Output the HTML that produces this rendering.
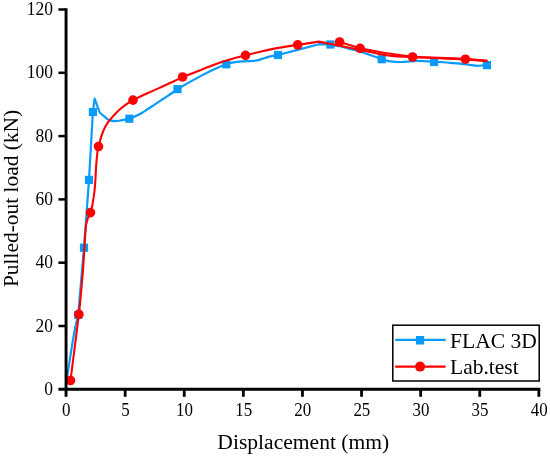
<!DOCTYPE html><html><head><meta charset="utf-8"><title>Pull-out load vs displacement</title>
<style>html,body{margin:0;padding:0;background:#fff}svg{display:block}text{font-family:"Liberation Serif","Times New Roman",serif;fill:#000}</style></head><body>
<svg width="550" height="457" viewBox="0 0 550 457">
<rect width="550" height="457" fill="#fff"/>
<path d="M66.8,380.5 C67.27,377.00 67.65,373.49 68.2,370 C70.29,356.65 72.29,343.30 74.7,330 C75.62,324.91 77.03,319.94 78.2,314.9 C80.13,292.49 82.07,270.11 84,247.7 C85.67,225.09 87.33,202.51 89,179.9 C90.30,157.26 91.60,134.64 92.9,112 C93.47,107.56 94.03,103.14 94.6,98.7 C96.27,103.20 97.93,107.70 99.6,112.2 C100.93,113.43 102.23,114.70 103.6,115.9 C104.90,117.04 106.14,118.27 107.6,119.2 C108.64,119.86 109.81,120.31 111,120.6 C112.47,120.95 113.99,121.10 115.5,121.1 C117.01,121.10 118.51,120.82 120,120.6 C121.68,120.35 123.34,120.04 125,119.7 C126.48,119.39 127.97,119.13 129.4,118.65 C131.82,117.83 134.18,116.86 136.5,115.8 C138.16,115.04 139.72,114.11 141.3,113.2 C142.73,112.38 144.12,111.50 145.5,110.6 C148.69,108.53 151.83,106.40 155,104.3 C157.67,102.53 160.33,100.77 163,99.0 C166.50,96.67 170.03,94.38 173.5,92.0 C174.87,91.06 176.07,89.89 177.5,89.05 C185.25,84.51 193.07,80.12 201,75.9 C206.58,72.93 212.26,70.14 218,67.5 C220.67,66.27 223.43,65.27 226.2,64.3 C228.10,63.63 230.01,62.93 232,62.6 C235.97,61.93 239.99,61.63 244,61.3 C246.00,61.13 248.00,61.24 250,61.1 C252.34,60.94 254.69,60.82 257,60.4 C258.71,60.09 260.34,59.42 262,58.9 C263.84,58.32 265.62,57.56 267.5,57.1 C270.97,56.25 274.50,55.70 278,55 C291.67,51.40 305.33,47.80 319,44.2 C322.80,44.30 326.60,44.40 330.4,44.5 C333.47,45.07 336.56,45.51 339.6,46.2 C343.77,47.14 347.87,48.33 352,49.4 C354.67,50.09 357.36,50.69 360,51.5 C362.70,52.33 365.34,53.35 368,54.3 C372.57,55.92 377.08,57.73 381.7,59.2 C384.42,60.07 387.17,60.90 390,61.3 C393.80,61.84 397.66,62.06 401.5,62 C406.68,61.92 411.82,61.01 417,60.9 C421.34,60.81 425.67,61.12 430,61.4 C431.38,61.49 432.72,61.91 434.1,62.0 C435.70,62.11 437.30,61.92 438.9,62.0 C442.61,62.19 446.30,62.50 450,62.8 C455.61,63.26 461.21,63.65 466.8,64.3 C470.09,64.68 473.33,65.37 476.6,65.9 C480.04,65.63 483.46,65.37 486.9,65.1" fill="none" stroke="#0a9af8" stroke-width="2.2" stroke-linejoin="round"/>
<rect x="74.1" y="310.8" width="8.2" height="8.2" fill="#0a9af8"/>
<rect x="79.9" y="243.6" width="8.2" height="8.2" fill="#0a9af8"/>
<rect x="84.9" y="175.8" width="8.2" height="8.2" fill="#0a9af8"/>
<rect x="88.8" y="107.9" width="8.2" height="8.2" fill="#0a9af8"/>
<rect x="125.3" y="114.6" width="8.2" height="8.2" fill="#0a9af8"/>
<rect x="173.4" y="85.0" width="8.2" height="8.2" fill="#0a9af8"/>
<rect x="222.1" y="60.2" width="8.2" height="8.2" fill="#0a9af8"/>
<rect x="273.9" y="50.9" width="8.2" height="8.2" fill="#0a9af8"/>
<rect x="326.3" y="40.4" width="8.2" height="8.2" fill="#0a9af8"/>
<rect x="377.6" y="55.1" width="8.2" height="8.2" fill="#0a9af8"/>
<rect x="430.0" y="57.9" width="8.2" height="8.2" fill="#0a9af8"/>
<rect x="482.8" y="61.0" width="8.2" height="8.2" fill="#0a9af8"/>
<path d="M70.5,380.5 L78.9,314.4 C80.5,300 81.8,285 83,270 C83.6,262 84,255 84.4,247.7 C84.9,240 85.3,232 86,225 C86.8,219 88.5,216 90.5,212.6 C91.00,210.73 91.57,208.89 92.0,207 C92.37,205.35 92.64,203.67 92.9,202 C93.47,198.34 94.08,194.68 94.5,191 C94.92,187.34 95.16,183.67 95.4,180 C95.73,175.00 95.82,169.99 96.2,165 C96.58,159.99 97.08,154.99 97.7,150 C97.85,148.81 98.23,147.67 98.5,146.5  C99.5,142 100.8,138 102,134.3 C103.2,131 104.5,128 105.9,125.5 C107.3,123 109,121 110.8,118.9 C113,116 115.5,113.5 117.8,111.2 C120,109.2 122.5,107 124.8,105.4 C127.5,103.5 130,101.5 133,99.8 C134.25,99.50 135.48,98.80 136.75,98.2 C141.15,96.12 145.57,94.12 150,92.1 C153.33,90.58 156.67,89.12 160,87.6 C165.01,85.32 170.02,83.05 175,80.7 C177.56,79.50 180.00,78.06 182.6,76.95 C186.68,75.22 190.87,73.80 195,72.2 C198.51,70.84 201.99,69.45 205.5,68.1 C211.33,65.85 217.16,63.63 223,61.4 C227.00,60.27 230.98,59.07 235,58.0 C238.49,57.07 242.00,56.27 245.5,55.4 C262,51 280,47 297.7,44.9 L319,41.6 L339.6,45.8 L357,49.3 C366,51.2 376,53.5 384.3,55 C393,56.4 403,56.9 412.6,57.2 C430,57.9 448,58.7 465.4,59.4 L487.5,61.1" fill="none" stroke="#ff0000" stroke-width="2.1" stroke-linejoin="miter"/>
<path d="M339.6,42 L360.1,48.3 Q386.4,54.2 412.6,56.7 L465.4,58.9 L487.5,60.8" fill="none" stroke="#ff0000" stroke-width="2.1" stroke-linejoin="round"/>
<circle cx="70.5" cy="380.5" r="4.8" fill="#ff0000"/>
<circle cx="78.9" cy="314.4" r="4.8" fill="#ff0000"/>
<circle cx="90.5" cy="212.6" r="4.8" fill="#ff0000"/>
<circle cx="98.5" cy="146.5" r="4.8" fill="#ff0000"/>
<circle cx="133" cy="100.15" r="4.8" fill="#ff0000"/>
<circle cx="182.6" cy="76.95" r="4.8" fill="#ff0000"/>
<circle cx="245.5" cy="55.4" r="4.8" fill="#ff0000"/>
<circle cx="297.7" cy="44.9" r="4.8" fill="#ff0000"/>
<circle cx="339.6" cy="42.0" r="4.8" fill="#ff0000"/>
<circle cx="360.1" cy="48.3" r="4.8" fill="#ff0000"/>
<circle cx="412.6" cy="57.0" r="4.8" fill="#ff0000"/>
<circle cx="465.4" cy="59.2" r="4.8" fill="#ff0000"/>
<path d="M66.05,8.2 V396.8 M58.4,389.3 H540.3" stroke="#000" stroke-width="2.9" fill="none"/>
<text transform="translate(53,394.90) scale(0.93,1)" font-size="18.8" text-anchor="end">0</text>
<path d="M58.4,326.00 H66.05" stroke="#000" stroke-width="2.5" fill="none"/>
<text transform="translate(53,331.60) scale(0.93,1)" font-size="18.8" text-anchor="end">20</text>
<path d="M58.4,262.70 H66.05" stroke="#000" stroke-width="2.5" fill="none"/>
<text transform="translate(53,268.30) scale(0.93,1)" font-size="18.8" text-anchor="end">40</text>
<path d="M58.4,199.40 H66.05" stroke="#000" stroke-width="2.5" fill="none"/>
<text transform="translate(53,205.00) scale(0.93,1)" font-size="18.8" text-anchor="end">60</text>
<path d="M58.4,136.10 H66.05" stroke="#000" stroke-width="2.5" fill="none"/>
<text transform="translate(53,141.70) scale(0.93,1)" font-size="18.8" text-anchor="end">80</text>
<path d="M58.4,72.80 H66.05" stroke="#000" stroke-width="2.5" fill="none"/>
<text transform="translate(53,78.40) scale(0.93,1)" font-size="18.8" text-anchor="end">100</text>
<path d="M58.4,9.50 H66.05" stroke="#000" stroke-width="2.5" fill="none"/>
<text transform="translate(53,15.10) scale(0.93,1)" font-size="18.8" text-anchor="end">120</text>
<text transform="translate(66.35,416.1) scale(0.9,1)" font-size="18.8" text-anchor="middle">0</text>
<path d="M125.15,389.3 V396.8" stroke="#000" stroke-width="2.8" fill="none"/>
<text transform="translate(125.45,416.1) scale(0.9,1)" font-size="18.8" text-anchor="middle">5</text>
<path d="M184.25,389.3 V396.8" stroke="#000" stroke-width="2.8" fill="none"/>
<text transform="translate(184.55,416.1) scale(0.9,1)" font-size="18.8" text-anchor="middle">10</text>
<path d="M243.35,389.3 V396.8" stroke="#000" stroke-width="2.8" fill="none"/>
<text transform="translate(243.65,416.1) scale(0.9,1)" font-size="18.8" text-anchor="middle">15</text>
<path d="M302.45,389.3 V396.8" stroke="#000" stroke-width="2.8" fill="none"/>
<text transform="translate(302.75,416.1) scale(0.9,1)" font-size="18.8" text-anchor="middle">20</text>
<path d="M361.55,389.3 V396.8" stroke="#000" stroke-width="2.8" fill="none"/>
<text transform="translate(361.85,416.1) scale(0.9,1)" font-size="18.8" text-anchor="middle">25</text>
<path d="M420.65,389.3 V396.8" stroke="#000" stroke-width="2.8" fill="none"/>
<text transform="translate(420.95,416.1) scale(0.9,1)" font-size="18.8" text-anchor="middle">30</text>
<path d="M479.75,389.3 V396.8" stroke="#000" stroke-width="2.8" fill="none"/>
<text transform="translate(480.05,416.1) scale(0.9,1)" font-size="18.8" text-anchor="middle">35</text>
<path d="M538.85,389.3 V396.8" stroke="#000" stroke-width="2.8" fill="none"/>
<text transform="translate(539.15,416.1) scale(0.9,1)" font-size="18.8" text-anchor="middle">40</text>
<text x="217.3" y="449" font-size="21.6" textLength="172" lengthAdjust="spacingAndGlyphs">Displacement (mm)</text>
<text transform="translate(17.9,287.1) rotate(-90)" font-size="21.6" textLength="177.3" lengthAdjust="spacingAndGlyphs">Pulled-out load (kN)</text>
<rect x="392.8" y="325.2" width="146.4" height="55.8" fill="#fff" stroke="#000" stroke-width="1.5"/>
<path d="M395.2,339.9 H445.6" stroke="#0a9af8" stroke-width="2.4"/>
<rect x="415.9" y="336" width="8.3" height="8.5" fill="#0a9af8"/>
<path d="M395.2,366.6 H445.6" stroke="#ff0000" stroke-width="2.3"/>
<circle cx="420.1" cy="366.6" r="5" fill="#ff0000"/>
<text x="450" y="347.6" font-size="21.4" textLength="86.8" lengthAdjust="spacingAndGlyphs">FLAC 3D</text>
<text x="450" y="374" font-size="21.4" textLength="68.7" lengthAdjust="spacingAndGlyphs">Lab.test</text>
</svg></body></html>
